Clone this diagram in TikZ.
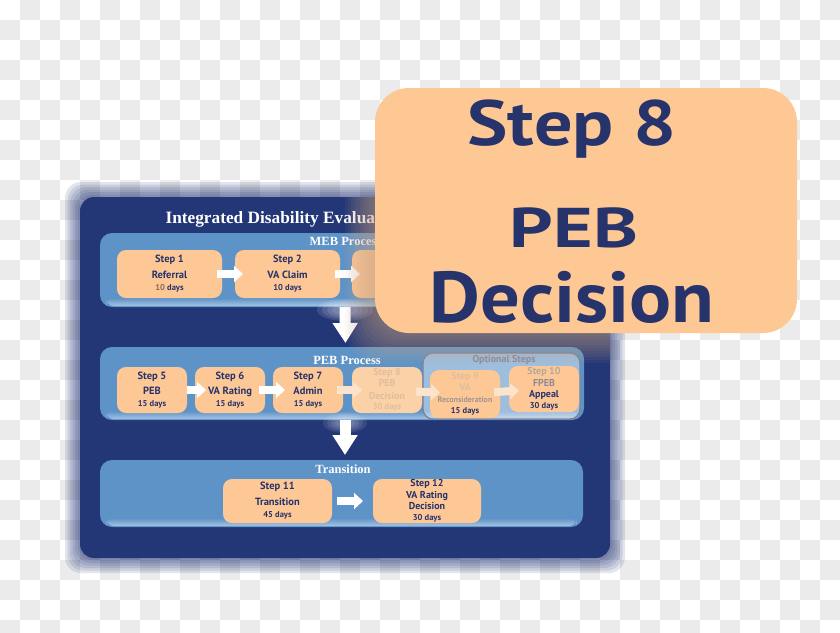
\documentclass[tikz,border=0pt]{standalone}
\usepackage{fontspec}
\newfontfamily\stepsans{PT Sans}
\newfontfamily\titleserif{Liberation Serif}
\usetikzlibrary{arrows.meta, positioning, fadings}
\definecolor{panelnavy}{HTML}{233676}
\definecolor{bandblue}{HTML}{5E93C8}
\definecolor{peach}{HTML}{FDC896}
\definecolor{palepeach}{HTML}{FBD2A8}
\definecolor{cardpeach}{HTML}{FEC894}
\definecolor{inknavy}{HTML}{27336B}
\definecolor{numbrown}{HTML}{8A6A5A}
\definecolor{checkgray}{HTML}{EBEBEB}
\definecolor{fadeink}{HTML}{E0BE9C}
\definecolor{fadeinkb}{HTML}{B5A79A}
\definecolor{paleink}{HTML}{A29494}
\definecolor{greyink}{HTML}{8F8A97}
\definecolor{optgray}{HTML}{7F8393}
\definecolor{optink}{HTML}{8A8A96}
\definecolor{fadearrow}{HTML}{FBE3CC}
\definecolor{glowtan}{HTML}{C9A486}
\newcommand{\daysize}{\fontsize{8.5}{10}\selectfont}
\newcommand{\recsize}{\fontsize{8}{10}\selectfont}

\begin{document}
\begin{tikzpicture}[x=1pt, y=-1pt,
  stepbox/.style={rectangle, rounded corners=9pt, fill=peach, minimum width=105pt, minimum height=48pt, inner sep=0pt, outer sep=0pt, align=center, text=inknavy, font=\stepsans\bfseries\fontsize{10.5}{15}\selectfont},
  pebbox/.style={stepbox, minimum width=70pt, minimum height=46pt},
  fourline/.style={font=\stepsans\bfseries\fontsize{10}{11.5}\selectfont},
  band/.style={fill=bandblue, rounded corners=12pt, inner sep=0pt, outer sep=0pt},
  bandlabel/.style={text=white, font=\titleserif\bfseries\fontsize{12.5}{14}\selectfont},
  titletext/.style={text=white, font=\titleserif\bfseries\fontsize{17.3}{20}\selectfont},
  optbox/.style={draw=optgray, line width=1.3pt, fill=white, fill opacity=0.4, rounded corners=10pt},
  optlabel/.style={text=optink, font=\stepsans\bfseries\fontsize{10}{12}\selectfont},
  flow/.style={color=white, line width=8pt, -{Triangle[length=9pt, width=16pt]}},
  drop/.style={color=white, line width=11pt, -{Triangle[length=20pt, width=24pt]}},
  zoomcard/.style={fill=cardpeach, rounded corners=34pt, minimum width=422pt, minimum height=245pt, inner sep=0pt},
  bigtext/.style={text=inknavy, font=\stepsans\bfseries}
]
  \useasboundingbox (0,0) rectangle (840,632);

  % transparency grid
  \foreach \i in {0,...,41}
    \foreach \j in {0,...,31}
      {\ifodd\numexpr\i+\j\relax \fill[checkgray] (20*\i,20*\j) rectangle ++(20,20); \fi}

  % blurred panel
  \foreach \g in {1,...,6}
    \fill[panelnavy, opacity=0.13, rounded corners=16pt] (80-2.5*\g,197-2.5*\g) rectangle (610+2.5*\g,558+2.5*\g);
  \fill[panelnavy, rounded corners=14pt] (80,197) rectangle (610,558);

  \node[titletext, anchor=base west] (title) at (162,223) {Integrated Disability Evaluation System};

  % the three bands
  \node[band, minimum width=483pt, minimum height=74pt] (meb) at (341.5,270) {};
  \node[band, minimum width=484pt, minimum height=73pt] (peb) at (342,383.5) {};
  \node[band, minimum width=483pt, minimum height=67pt] (trans) at (341.5,493.5) {};
  \foreach \b in {meb,peb,trans}
    \fill[white, opacity=0.45, path fading=north, rounded corners=8pt] ([xshift=6pt,yshift=9pt]\b.south west) rectangle ([xshift=-6pt,yshift=1pt]\b.south east);

  \node[bandlabel, anchor=base] (meblabel) at (345.5,245) {MEB Process};
  \node[bandlabel, anchor=base] (peblabel) at (347,364) {PEB Process};
  \node[bandlabel, anchor=base] (translabel) at (343,473) {Transition};

  % MEB
  \node[stepbox] (s1) at (169.5,274) {Step 1\\[1pt]Referral\\[-3pt]{\daysize{\color{numbrown}10} days}};
  \node[stepbox] (s2) [right=13pt of s1] {Step 2\\[1pt]VA Claim\\[-3pt]{\daysize 10 days}};
  \node[stepbox] (s3) [right=12pt of s2] {};

  % PEB
  \draw[optbox] (423,353) rectangle (580,419);
  \node[optlabel, anchor=base] (optlabel) at (504,362) {Optional Steps};
  \node[pebbox] (s5) at (152,390) {Step 5\\PEB\\[-3pt]{\daysize 15 days}};
  \node[pebbox] (s6) [right=8pt of s5] {Step 6\\VA Rating\\[-3pt]{\daysize 15 days}};
  \node[pebbox] (s7) [right=8pt of s6] {Step 7\\Admin\\[-3pt]{\daysize 15 days}};
  \node[pebbox, fourline, fill=palepeach, text=fadeink] (s8) [right=9pt of s7] {Step 8\\PEB\\[1pt]Decision\\[-1pt]{\daysize 30 days}};
  \node[pebbox, fourline, minimum height=48pt] (s9) [right=8pt of s8, yshift=-4pt] {{\color{fadeink}Step 9}\\{\color{fadeink}VA}\\{\recsize\color{paleink}Reconsideration}\\{\daysize 15 days}};
  \node[pebbox, fourline] (s10) [right=9pt of s9, yshift=5pt] {{\color{fadeinkb}Step 10}\\{\color{greyink}FPEB}\\Appeal\\[-1pt]{\daysize 30 days}};

  % Transition
  \node[stepbox, minimum width=109pt, minimum height=44pt] (s11) at (277.5,501) {Step 11\\[1pt]Transition\\[-3pt]{\daysize 45 days}};
  \node[stepbox, fourline, minimum width=108pt, minimum height=44pt] (s12) [right=41pt of s11] {Step 12\\VA Rating\\Decision\\[-1pt]{\daysize 30 days}};

  % step arrows
  \path[flow]
    (s1) edge[shorten <=-5pt, shorten >=-8pt] (s2)
    (s2) edge[shorten <=-5pt, shorten >=-8pt] (s3)
    (s5) edge[shorten <=0pt, shorten >=-11pt] (s6)
    (s6) edge[shorten <=-6pt, shorten >=-12pt] (s7)
    (s11) edge[shorten <=5pt, shorten >=10pt] (s12);
  \path[flow, color=fadearrow]
    (s7) edge[shorten <=-6pt, shorten >=-10pt] (s8)
    (s8) edge[shorten <=-6pt, shorten >=-10pt] (s9)
    (s9) edge[shorten <=-6pt, shorten >=-10pt] (s10);

  % arrows between bands
  \foreach \g in {1,...,4}{
    \fill[white, opacity=0.12] (345,310) ellipse [x radius=8+5*\g, y radius=3+2*\g];
    \fill[white, opacity=0.10] (345,423) ellipse [x radius=6+4*\g, y radius=2+2*\g];
  }
  \path[drop]
    ([xshift=3.5pt]meb.south) edge[shorten >=4pt] ([xshift=3.5pt]peb.north)
    ([xshift=3pt]peb.south) edge[shorten >=5pt] ([xshift=3.5pt]trans.north);

  % enlarged step, its shadow only shows on the panel
  \begin{scope}
    \clip[rounded corners=14pt] (80,197) rectangle (610,558);
    \foreach \g in {1,...,10}
      \fill[glowtan, opacity=0.07, rounded corners=34pt] (375-3*\g,88-3*\g) rectangle (797+3*\g,333+3*\g);
  \end{scope}
  \node[zoomcard] (card) at (586,210.5) {};
  \node[bigtext, anchor=base, font=\stepsans\bfseries\fontsize{64}{64}\selectfont] (bigstep) at (572,145) {\scalebox{1.19}[1]{Step 8}};
  \node[bigtext, anchor=base, font=\stepsans\bfseries\fontsize{56}{56}\selectfont] (bigpeb) at (574,247) {\scalebox{1.36}[1]{PEB}};
  \node[bigtext, anchor=base, font=\stepsans\bfseries\fontsize{72}{72}\selectfont] (bigdecision) at (572,322) {\scalebox{1.09}[1]{Decision}};
\end{tikzpicture}
\end{document}
